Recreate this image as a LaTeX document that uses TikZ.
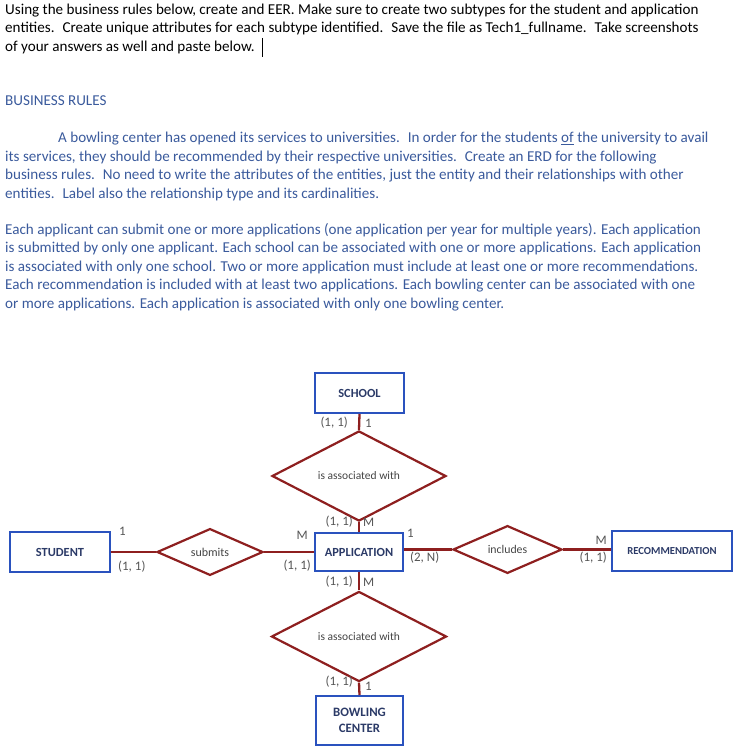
\documentclass[tikz,border=0pt]{standalone}
\usepackage{fontspec}
\setmainfont{Carlito}
\usetikzlibrary{shapes.geometric}
\definecolor{bodyblue}{HTML}{3A5A9C}
\definecolor{entblue}{HTML}{2A52BE}
\definecolor{relred}{HTML}{8E1F1F}
\definecolor{cardgray}{HTML}{555555}
\definecolor{enttext}{HTML}{2B3A67}
\definecolor{reltext}{HTML}{444444}
\begin{document}
\begin{tikzpicture}[x=1pt,y=-1pt,
  txtline/.style={anchor=base west, inner sep=0, font=\fontsize{15.1}{18}\selectfont},
  bodyline/.style={txtline, text=bodyblue},
  entity/.style={draw=entblue, line width=2pt, rectangle, inner sep=0, text=enttext,
    font=\fontsize{12.4}{15}\selectfont\bfseries, align=center},
  relation/.style={draw=relred, line width=2.2pt, diamond, inner sep=0, text=reltext,
    font=\fontsize{12}{14}\selectfont},
  rel/.style={draw=relred, line width=2.3pt},
  card/.style={inner sep=0, text=cardgray, font=\fontsize{13}{15}\selectfont}
]
\useasboundingbox (0,0) rectangle (739,749);

% instructions
\node[txtline] (t1) at (5,14.5) {Using the business rules below, create and EER. Make sure to create two subtypes for the student and application};
\node[txtline] (t2) at (5,33) {entities.~ Create unique attributes for each subtype identified.~ Save the file as Tech1\_fullname.~ Take screenshots};
\node[txtline] (t3) at (5,51.5) {of your answers as well and paste below.};
\coordinate (curtop) at (262,38);
\coordinate (curbot) at (262,57);
\draw[line width=0.8pt] (curtop) -- (curbot);

% business rules
\node[bodyline] (br) at (5,106) {BUSINESS RULES};
\node[bodyline] (p1) at (58,142.5) {A bowling center has opened its services to universities.~ In order for the students \underline{of} the university to avail};
\node[bodyline] (p2) at (5,161) {its services, they should be recommended by their respective universities.~ Create an ERD for the following};
\node[bodyline] (p3) at (5,179.5) {business rules.~ No need to write the attributes of the entities, just the entity and their relationships with other};
\node[bodyline] (p4) at (5,198) {entities.~ Label also the relationship type and its cardinalities.};

\node[bodyline] (q1) at (5,234) {Each applicant can submit one or more applications (one application per year for multiple years). Each application};
\node[bodyline] (q2) at (5,252.5) {is submitted by only one applicant. Each school can be associated with one or more applications. Each application};
\node[bodyline] (q3) at (5,271) {is associated with only one school. Two or more application must include at least one or more recommendations.};
\node[bodyline] (q4) at (5,289.5) {Each recommendation is included with at least two applications. Each bowling center can be associated with one};
\node[bodyline] (q5) at (5,308) {or more applications. Each application is associated with only one bowling center.};

% entities
\node[entity, minimum width=89, minimum height=40] (school) at (359.5,393) {SCHOOL};
\node[entity, minimum width=100, minimum height=40] (student) at (60,552) {STUDENT};
\node[entity, minimum width=88, minimum height=38] (app) at (359,552) {APPLICATION};
\node[entity, minimum width=120, minimum height=40, font=\fontsize{10.7}{13}\selectfont\bfseries] (rec) at (672,551) {RECOMMENDATION};
\node[entity, minimum width=87, minimum height=49, font=\fontsize{12.8}{15.5}\selectfont\bfseries] (bowl) at (359.5,720.5) {BOWLING\\CENTER};

% relationships
\node[relation, minimum width=174, minimum height=36, font=\fontsize{11.5}{13}\selectfont] (assoc1) at (359,476) {is associated with};
\node[relation, minimum width=106, minimum height=42] (submits) at (210,552) {submits};
\node[relation, minimum width=109, minimum height=43, font=\fontsize{11.8}{14}\selectfont] (includes) at (507.5,549.5) {includes};
\node[relation, minimum width=175, minimum height=37, font=\fontsize{11.5}{13}\selectfont] (assoc2) at (359,636.5) {is associated with};

% connectors
\draw[rel] (school.south) -- (assoc1.north);
\draw[rel] (assoc1.south) -- (app.north);
\draw[rel] (student.east) -- (submits.west);
\draw[rel] (submits.east) -- (app.west);
\draw[rel] (includes.west -| app.east) -- (includes.west);
\draw[rel] (includes.east) -- (includes.east -| rec.west);
\draw[rel] (app.south) -- (assoc2.north);
\draw[rel] (assoc2.south) -- (bowl.north);

% cardinalities
\node[card, anchor=east] (c1) at (348,423) {(1, 1)};
\node[card, anchor=west] (c2) at (365,423) {1};
\node[card, anchor=east] (c3) at (353,522) {(1, 1)};
\node[card, anchor=west] (c4) at (363,522) {M};
\node[card, anchor=west] (c5) at (119,531) {1};
\node[card, anchor=west] (c6) at (118,567) {(1, 1)};
\node[card, anchor=east] (c7) at (308,535) {M};
\node[card, anchor=east] (c8) at (311,566) {(1, 1)};
\node[card, anchor=west] (c9) at (407,533) {1};
\node[card, anchor=west] (c10) at (410,558) {(2, N)};
\node[card, anchor=east] (c11) at (607,540) {M};
\node[card, anchor=east] (c12) at (607,558) {(1, 1)};
\node[card, anchor=east] (c13) at (353,582) {(1, 1)};
\node[card, anchor=west] (c14) at (363,582) {M};
\node[card, anchor=east] (c15) at (353,682) {(1, 1)};
\node[card, anchor=west] (c16) at (365,686) {1};
\end{tikzpicture}
\end{document}
